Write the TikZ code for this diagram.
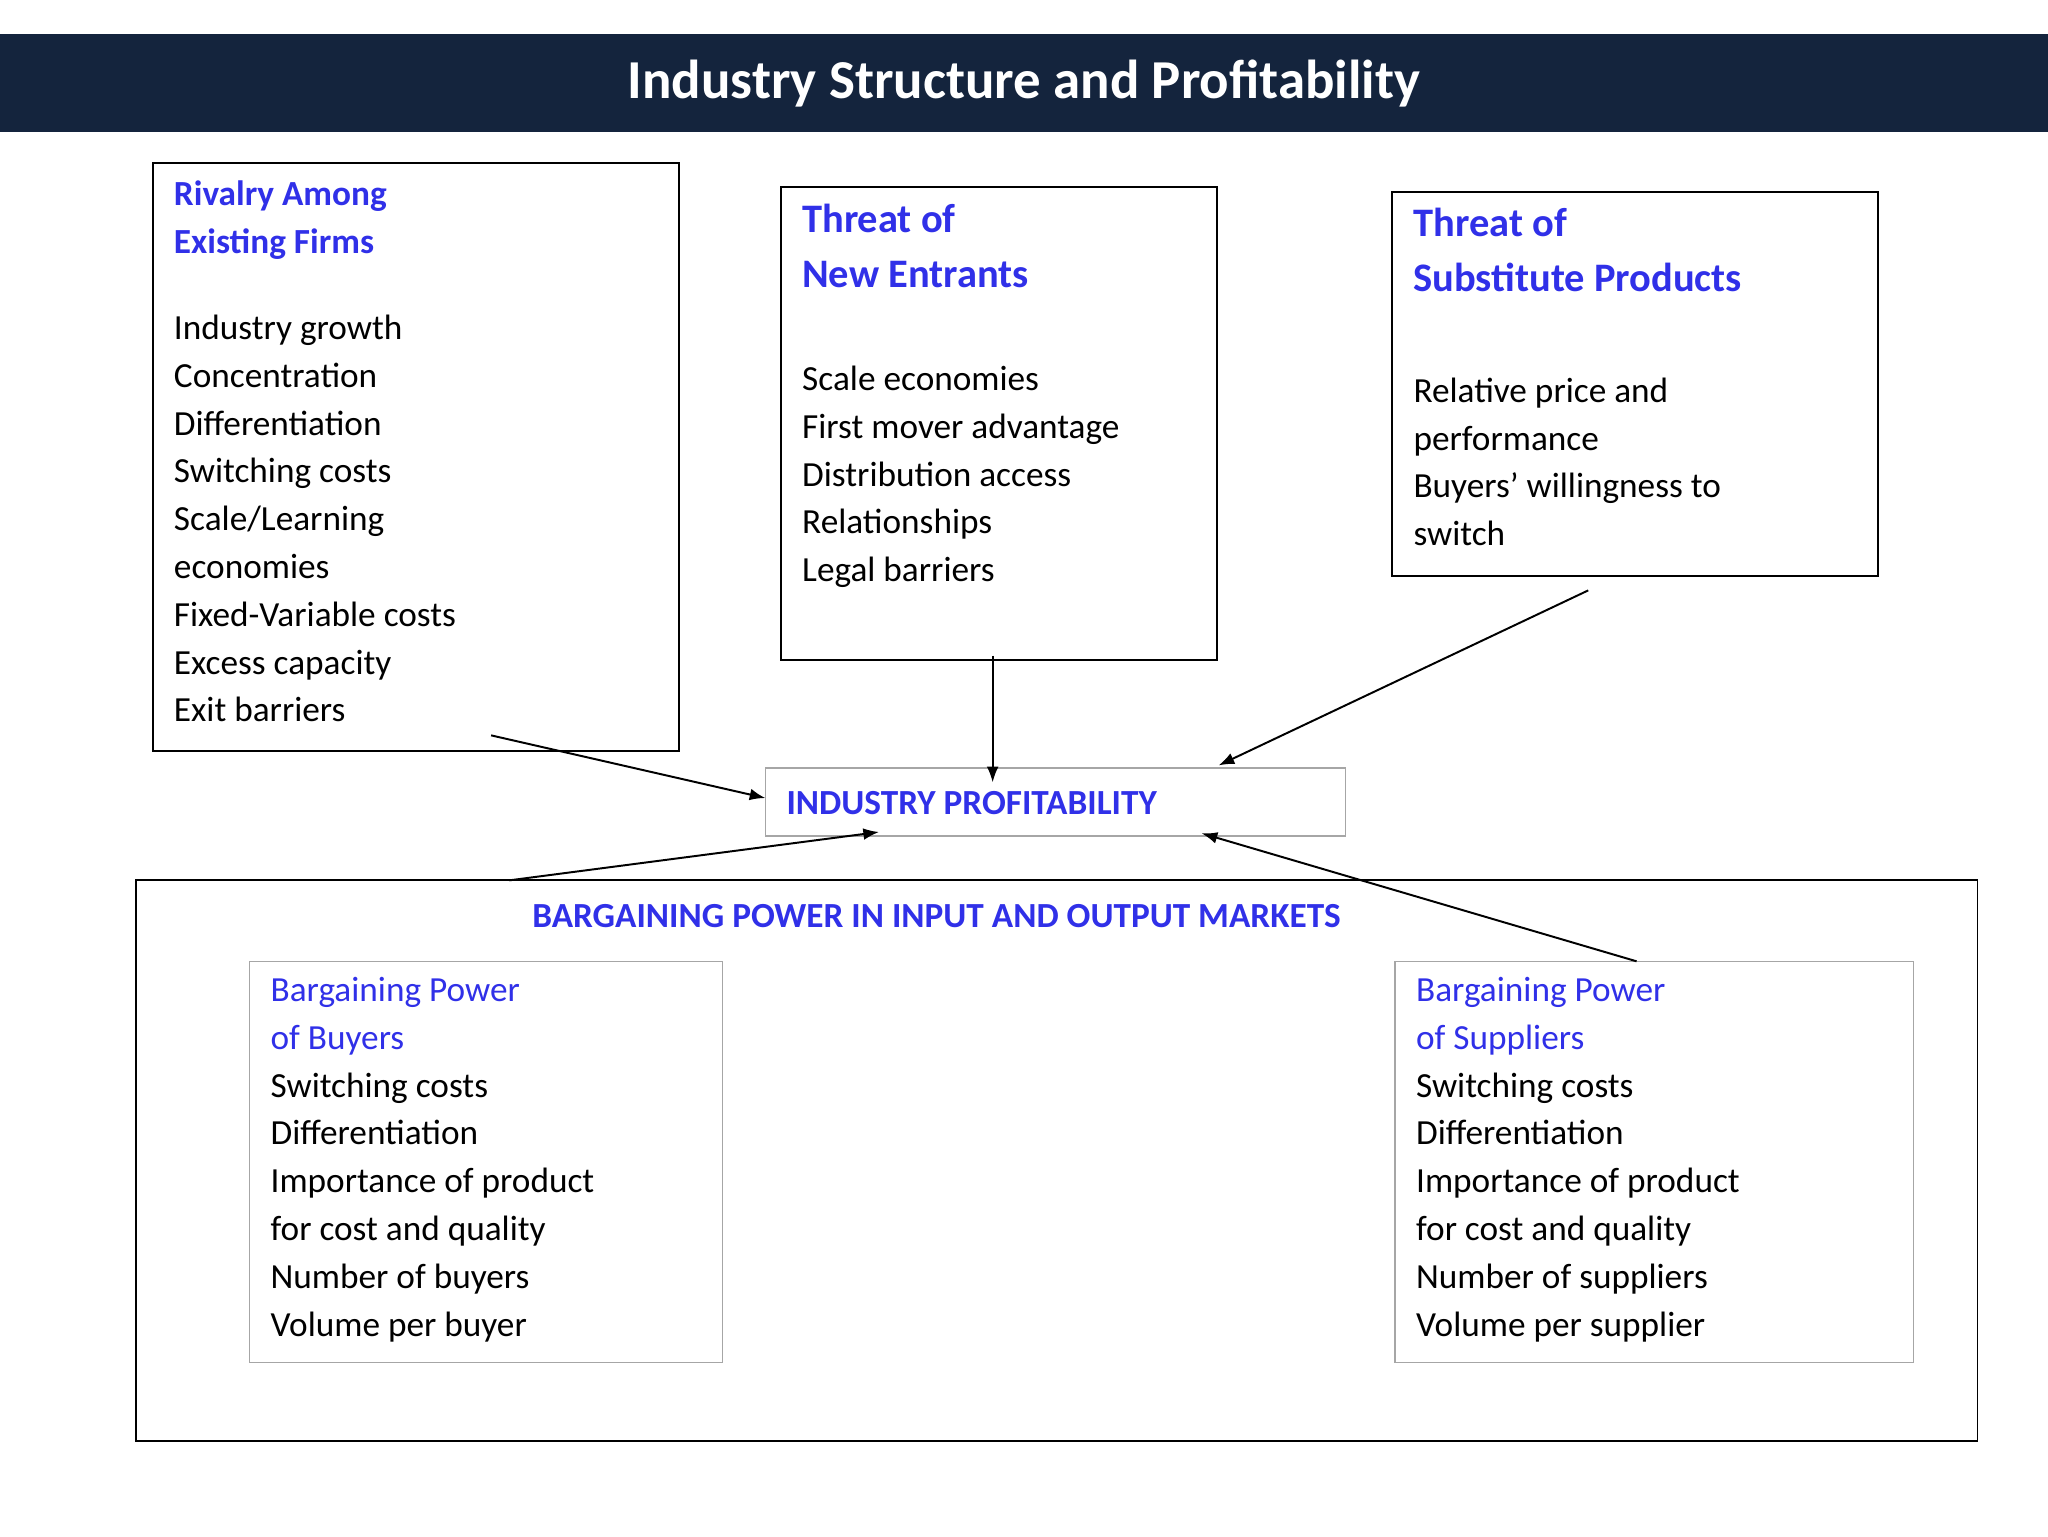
\documentclass[tikz,border=0pt]{standalone}
\usepackage{fontspec}
\setmainfont{Carlito}
\usetikzlibrary{arrows.meta}
\definecolor{navy}{HTML}{14243D}
\definecolor{hblue}{HTML}{3030E8}
\tikzset{
  txt/.style={anchor=north west,inner sep=0pt,align=left,font=\fontsize{27}{36.6}\selectfont},
  head/.style={txt,text=hblue,font=\bfseries\fontsize{27}{37}\selectfont},
  bighead/.style={txt,text=hblue,font=\bfseries\fontsize{31}{42}\selectfont},
  blk/.style={draw=black,line width=1.5pt},
  gry/.style={draw=gray!70,line width=1.2pt},
  arr/.style={-{Latex[length=12pt,width=9pt]},line width=1.5pt}
}
\begin{document}
\begin{tikzpicture}[x=1pt,y=-1pt]
\useasboundingbox (0,0) rectangle (1568,1176);
\fill[navy] (0,26) rectangle (1568,101);
\node[text=white,font=\bfseries\fontsize{42}{50}\selectfont] (title) at (784,64) {Industry Structure and Profitability};
% rivalry
\draw[blk] (117,125) rectangle (520,575);
\node[head] (rh) at (133,138) {Rivalry Among\\Existing Firms};
\node[txt] (rb) at (133,241) {Industry growth\\Concentration\\Differentiation\\Switching costs\\Scale/Learning\\economies\\Fixed-Variable costs\\Excess capacity\\Exit barriers};
% new entrants
\draw[blk] (598,143) rectangle (932,505);
\node[bighead] (nh) at (614,156) {Threat of\\New Entrants};
\node[txt] (nb) at (614,280) {Scale economies\\First mover advantage\\Distribution access\\Relationships\\Legal barriers};
% substitutes
\draw[blk] (1066,147) rectangle (1438,441);
\node[bighead] (sh) at (1082,159) {Threat of\\Substitute Products};
\node[txt] (sb) at (1082,289) {Relative price and\\performance\\Buyers’ willingness to\\switch};
% profitability
\node[gry,minimum width=444pt,minimum height=52pt,inner sep=0pt] (ip) at (808,614) {};
\node[anchor=west,inner sep=0pt,text=hblue,font=\bfseries\fontsize{27}{32}\selectfont] (ipt) at (602,615) {INDUSTRY PROFITABILITY};
% big box
\draw[blk] (104,674) rectangle (1514,1103);
\node[text=hblue,font=\bfseries\fontsize{27}{32}\selectfont,inner sep=0pt] (bt) at (717,701) {BARGAINING POWER IN INPUT AND OUTPUT MARKETS};
\draw[gry] (191,736) rectangle (553,1043);
\node[txt,text=hblue] (bh) at (207,748) {Bargaining Power\\of Buyers};
\node[txt] (bb) at (207,821) {Switching costs\\Differentiation\\Importance of product\\for cost and quality\\Number of buyers\\Volume per buyer};
\draw[gry] (1068,736) rectangle (1465,1043);
\node[txt,text=hblue] (uh) at (1084,748) {Bargaining Power\\of Suppliers};
\node[txt] (ub) at (1084,821) {Switching costs\\Differentiation\\Importance of product\\for cost and quality\\Number of suppliers\\Volume per supplier};
% arrows
\coordinate (a1) at (376,563); \coordinate (e1) at (586,611);
\coordinate (a2) at (760,502); \coordinate (e2) at (760,599);
\coordinate (a3) at (1216,452); \coordinate (e3) at (933,586);
\coordinate (a4) at (390,674); \coordinate (e4) at (673,637);
\coordinate (a5) at (1253,736); \coordinate (e5) at (920,638);
\draw[arr] (a1) -- (e1);
\draw[arr] (a2) -- (e2);
\draw[arr] (a3) -- (e3);
\draw[arr] (a4) -- (e4);
\draw[arr] (a5) -- (e5);
\end{tikzpicture}
\end{document}
